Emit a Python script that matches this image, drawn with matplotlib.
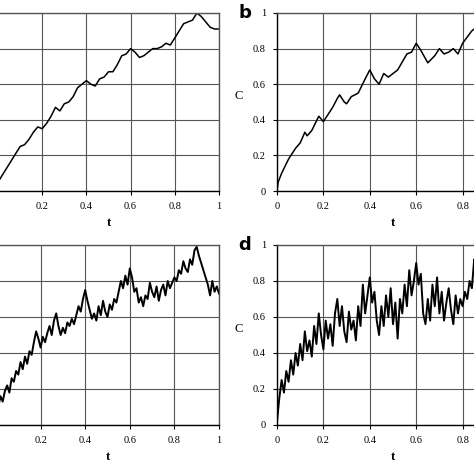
import numpy as np
import matplotlib
matplotlib.use("Agg")
import matplotlib.pyplot as plt

# panel a (top-left), smooth walk
t_a = [0.0, 0.02, 0.04, 0.06, 0.08, 0.10, 0.12, 0.14, 0.16, 0.18, 0.20, 0.22, 0.24, 0.26, 0.28,
       0.30, 0.32, 0.34, 0.36, 0.38, 0.40, 0.42, 0.44, 0.46, 0.48, 0.50, 0.52, 0.54, 0.56, 0.58,
       0.60, 0.62, 0.64, 0.66, 0.68, 0.70, 0.72, 0.74, 0.76, 0.78, 0.80, 0.82, 0.84, 0.86, 0.88,
       0.90, 0.92, 0.94, 0.96, 0.98, 1.0]
c_a = [0.05, 0.09, 0.13, 0.17, 0.21, 0.25, 0.26, 0.29, 0.33, 0.36, 0.35, 0.38, 0.42, 0.47, 0.45,
       0.49, 0.50, 0.53, 0.58, 0.60, 0.62, 0.60, 0.59, 0.63, 0.64, 0.67, 0.67, 0.71, 0.76, 0.77,
       0.80, 0.78, 0.75, 0.76, 0.78, 0.80, 0.80, 0.81, 0.83, 0.82, 0.86, 0.90, 0.94, 0.95, 0.96,
       1.0, 0.98, 0.95, 0.92, 0.91, 0.91]

# panel b (top-right)
t_b = [0.0, 0.005, 0.02, 0.05, 0.08, 0.10, 0.12, 0.13, 0.15, 0.18, 0.20, 0.22, 0.24, 0.26, 0.27,
       0.29, 0.30, 0.32, 0.35, 0.38, 0.40, 0.42, 0.44, 0.46, 0.48, 0.50, 0.52, 0.56, 0.58, 0.60,
       0.62, 0.65, 0.68, 0.70, 0.72, 0.74, 0.76, 0.78, 0.80, 0.84, 0.86, 0.90, 0.95, 1.0]
c_b = [0.0, 0.05, 0.10, 0.18, 0.24, 0.27, 0.33, 0.31, 0.34, 0.42, 0.39, 0.43, 0.47, 0.52, 0.54,
       0.50, 0.49, 0.53, 0.55, 0.63, 0.68, 0.63, 0.60, 0.66, 0.64, 0.66, 0.68, 0.77, 0.78, 0.83,
       0.79, 0.72, 0.76, 0.80, 0.77, 0.78, 0.80, 0.77, 0.83, 0.90, 0.92, 0.90, 0.93, 0.91]

# panels c and d (noisy), t = 0..1 step 0.01
t_cd = np.round(np.arange(0, 101) * 0.01, 2)
c_c = [0.12, 0.10, 0.16, 0.13, 0.19, 0.22, 0.18, 0.26, 0.24, 0.30,
       0.28, 0.35, 0.31, 0.38, 0.34, 0.41, 0.39, 0.46, 0.52, 0.48,
       0.43, 0.49, 0.46, 0.51, 0.55, 0.50, 0.58, 0.62, 0.55, 0.50,
       0.54, 0.51, 0.57, 0.55, 0.59, 0.56, 0.61, 0.66, 0.63, 0.70,
       0.75, 0.69, 0.64, 0.59, 0.62, 0.58, 0.66, 0.61, 0.69, 0.63,
       0.60, 0.67, 0.64, 0.70, 0.68, 0.74, 0.80, 0.76, 0.83, 0.78,
       0.87, 0.82, 0.74, 0.76, 0.68, 0.71, 0.66, 0.72, 0.70, 0.79,
       0.74, 0.71, 0.77, 0.69, 0.75, 0.78, 0.72, 0.80, 0.76, 0.79,
       0.82, 0.80, 0.86, 0.84, 0.91, 0.87, 0.85, 0.92, 0.89, 0.97,
       0.99, 0.94, 0.90, 0.86, 0.82, 0.78, 0.72, 0.80, 0.74, 0.77, 0.73]
c_d = [0.02, 0.15, 0.25, 0.18, 0.30, 0.24, 0.36, 0.28, 0.40, 0.33,
       0.45, 0.36, 0.52, 0.41, 0.47, 0.38, 0.55, 0.45, 0.62, 0.50,
       0.42, 0.58, 0.48, 0.56, 0.44, 0.62, 0.70, 0.55, 0.66, 0.52,
       0.46, 0.63, 0.53, 0.58, 0.47, 0.66, 0.55, 0.78, 0.62, 0.72,
       0.82, 0.68, 0.74, 0.58, 0.50, 0.66, 0.55, 0.72, 0.60, 0.76,
       0.56, 0.68, 0.48, 0.70, 0.62, 0.78, 0.66, 0.86, 0.72, 0.80,
       0.90, 0.78, 0.84, 0.62, 0.56, 0.70, 0.58, 0.78, 0.66, 0.82,
       0.62, 0.74, 0.58, 0.68, 0.76, 0.64, 0.56, 0.72, 0.62, 0.70,
       0.66, 0.74, 0.70, 0.80, 0.76, 0.92, 0.78, 0.84, 0.74, 0.80,
       0.72, 0.78, 0.66, 0.74, 0.80, 0.70, 0.76, 0.82, 0.72, 0.78, 0.74]

ticks = [0, 0.2, 0.4, 0.6, 0.8, 1]
tick_labels = ["0", "0.2", "0.4", "0.6", "0.8", "1"]

W = 474.0
fig = plt.figure(figsize=(4.74, 4.74), dpi=100)

def px_axes(x0, x1, ytop, ybot):
    return fig.add_axes([x0 / W, 1 - ybot / W, (x1 - x0) / W, (ybot - ytop) / W])

# (axes, t, c, linewidth, panel letter, left column?)
panels = [
    (px_axes(-2, 219, 13, 191), t_a, c_a, 1.1, None, True),
    (px_axes(277, 509, 13, 191), t_b, c_b, 1.1, "b", False),
    (px_axes(-4, 219, 245, 425), t_cd, c_c, 1.4, None, True),
    (px_axes(277, 509, 245, 425), t_cd, c_d, 1.4, "d", False),
]

for ax, t, c, lw, lab, left in panels:
    ax.plot(t, c, color="black", lw=lw)
    ax.set_xlim(0, 1)
    ax.set_ylim(0, 1)
    ax.set_xticks(ticks)
    ax.set_yticks(ticks)
    xl = [""] + tick_labels[1:] if left else tick_labels
    ax.set_xticklabels(xl, family="Liberation Serif", fontsize=7.5)
    if left:
        ax.set_yticklabels([])
    else:
        ax.set_yticklabels(tick_labels, family="Liberation Serif", fontsize=7.5)
    ax.grid(True, color="#555555", lw=0.8)
    ax.tick_params(length=3, width=0.8, pad=5)
    for s in ax.spines.values():
        s.set_linewidth(1.0)
        s.set_color("#555555")
    ax.spines["bottom"].set_color("black")
    ax.spines["left"].set_color("black")
    ax.set_xlabel("t", family="Liberation Serif", fontweight="bold", fontsize=9, labelpad=4)
    if lab:
        ax.set_ylabel("C", family="Liberation Serif", fontsize=9, rotation=0, labelpad=10)
        ax.text(-0.14, 1.0, lab, transform=ax.transAxes, fontsize=13, fontweight="bold",
                family="DejaVu Sans", ha="center", va="center")

fig.savefig("out.png", dpi=100)
